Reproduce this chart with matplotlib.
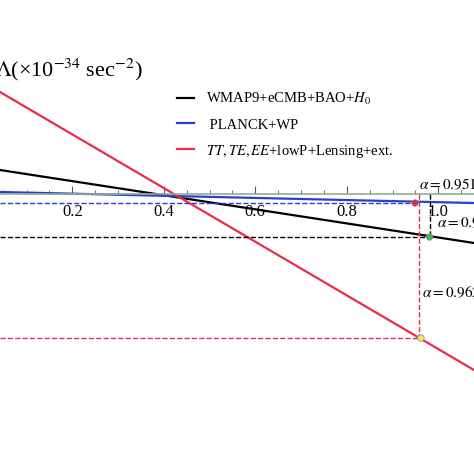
import matplotlib
matplotlib.use("Agg")
import matplotlib.pyplot as plt
import numpy as np

plt.rcParams['font.family'] = ['Liberation Serif', 'DejaVu Serif']
plt.rcParams['mathtext.fontset'] = 'stix'

alpha = [0.042, 1.078]
wmap = [0.24, -0.49]
planck = [0.02, -0.09]
tt = [1.02, -1.76]
pts_x = [0.949, 0.981, 0.962]
pts_y = [-0.09, -0.43, -1.44]
pt_colors = ['#d6284e', '#3cb84a', '#e6f05a']
ticks = [0.2, 0.4, 0.6, 0.8, 1.0]

fig = plt.figure(figsize=(4.74, 4.74), dpi=100)
ax = fig.add_axes([0, 0, 1, 1])
ax.set_xlim(0.042, 1.078)
ax.set_ylim(-2.80, 1.94)
for s in ['left', 'right', 'top']:
    ax.spines[s].set_visible(False)
ax.spines['bottom'].set_position(('data', 0))
ax.spines['bottom'].set_color('#8fae94')
ax.spines['bottom'].set_linewidth(1.2)
ax.set_yticks([])
ax.set_xticks(ticks)
ax.set_xticklabels(['0.2', '0.4', '0.6', '0.8', '1.0'])
ax.set_xticks(np.arange(0.05, 1.08, 0.05), minor=True)
ax.tick_params(axis='x', which='major', direction='in', length=6, color='#555555', labelsize=12, pad=7)
ax.tick_params(axis='x', which='minor', direction='in', length=3, color='#555555')

ax.plot(alpha, wmap, color='black', lw=1.6, label=r'WMAP9+eCMB+BAO+$H_0$')
ax.plot(alpha, planck, color='#2a3fd0', lw=1.6, label=' PLANCK+WP')
ax.plot(alpha, tt, color='#ee2a4a', lw=1.6, label=r'$TT,TE,EE$+lowP+Lensing+ext.')

ax.plot([0.042, pts_x[0]], [pts_y[0]] * 2, ls='--', color='#2a3fd0', lw=1)
ax.plot([0.042, pts_x[1]], [pts_y[1]] * 2, ls='--', color='black', lw=1)
ax.plot([pts_x[1]] * 2, [0, pts_y[1]], ls='--', color='black', lw=1)
ax.plot([0.042, pts_x[2]], [pts_y[2]] * 2, ls='--', color='#ee2a4a', lw=1)
ax.plot([0.957] * 2, [0, pts_y[2]], ls='--', color='#ee2a4a', lw=1)
ax.scatter(pts_x, pts_y, c=pt_colors, s=22, zorder=5, edgecolors='#888888', linewidths=0.5)

ax.text(0.957, 0.10, r'$\alpha=0.951$', fontsize=11, ha='left', va='center')
ax.text(0.997, -0.28, r'$\alpha=0.981$', fontsize=11, ha='left', va='center')
ax.text(0.965, -0.98, r'$\alpha=0.962$', fontsize=11, ha='left', va='center')
ax.text(0.030, 1.24, r'$\Lambda$(×10$^{-34}$ sec$^{-2}$)', fontsize=16, ha='left', va='center')

ax.legend(loc='upper left', bbox_to_anchor=(0.345, 0.835), frameon=False, fontsize=10.5,
          handlelength=1.2, labelspacing=0.75)
fig.savefig('out.png', dpi=100)
